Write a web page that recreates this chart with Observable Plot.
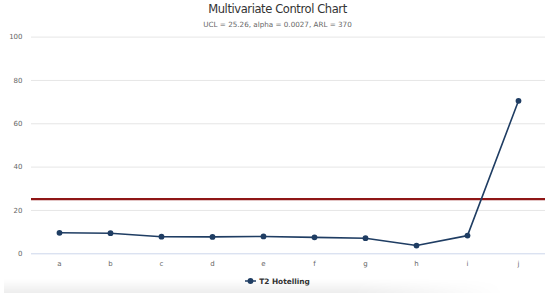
<!DOCTYPE html>
<html>
<head>
<meta charset="utf-8">
<script src="https://cdn.jsdelivr.net/npm/d3@7"></script>
<script src="https://cdn.jsdelivr.net/npm/@observablehq/plot@0.6"></script>
<style>
  html, body { margin: 0; padding: 0; background: #fff; }
  #wrap { position: relative; width: 550px; height: 299px; overflow: hidden; font-family: "DejaVu Sans", sans-serif; }
  #title { position: absolute; left: 0; width: 555px; top: 1px; text-align: center; font-size: 11.5px; letter-spacing: -0.4px; color: #333; line-height: 17px; }
  #subtitle { position: absolute; left: 0; width: 555px; top: 19px; text-align: center; font-size: 7.2px; color: #666; line-height: 12px; }
  #chart { position: absolute; left: 0; top: 26px; }
  #legend { position: absolute; left: 0; width: 555px; top: 275px; text-align: center; font-size: 7.4px; font-weight: bold; color: #333; line-height: 14px; }
  #legend svg { vertical-align: middle; margin-right: 3px; position: relative; top: -1px; }
  #shade { position: absolute; left: 4px; width: 500px; top: 279px; height: 14px;
    background: linear-gradient(to bottom, rgba(0,0,0,0), rgba(0,0,0,0.07));
    -webkit-mask-image: linear-gradient(to right, #000 0%, #000 70%, transparent 100%);
    mask-image: linear-gradient(to right, #000 0%, #000 70%, transparent 100%); }
</style>
</head>
<body>
<div id="wrap">
  <div id="shade"></div>
  <div id="title">Multivariate Control Chart</div>
  <div id="subtitle">UCL = 25.26, alpha = 0.0027, ARL = 370</div>
  <div id="chart"></div>
  <div id="legend"><svg width="11" height="8"><line x1="0" x2="11" y1="4" y2="4" stroke="#1f3d63" stroke-width="1.5"/><circle cx="5.5" cy="4" r="2.9" fill="#1f3d63"/></svg>T2 Hotelling</div>
</div>
<script>
const categories = ["a", "b", "c", "d", "e", "f", "g", "h", "i", "j"];
const t2Values = [9.7, 9.5, 7.9, 7.8, 8.0, 7.6, 7.2, 3.8, 8.4, 70.6];
const ucl = 25.26;
const yTicks = [0, 20, 40, 60, 80, 100];
const seriesName = "T2 Hotelling";

const data = categories.map((c, i) => ({cat: c, value: t2Values[i], series: seriesName}));

const plot = Plot.plot({
  width: 550,
  height: 250,
  marginLeft: 31,
  marginRight: 5,
  marginTop: 10.6,
  marginBottom: 22.7,
  style: {fontFamily: "DejaVu Sans, sans-serif", fontSize: "7px", color: "#666", background: "transparent"},
  x: {type: "point", domain: categories, padding: 0.5, label: null},
  y: {domain: [0, 100], ticks: yTicks, label: null},
  marks: [
    Plot.gridY(yTicks.filter(d => d > 0), {stroke: "#e6e6e6", strokeOpacity: 1, strokeWidth: 1}),
    Plot.ruleY([0], {stroke: "#ccd6eb", strokeWidth: 1}),
    Plot.axisY({ticks: yTicks, tickSize: 0, tickPadding: 9, fill: "#666", label: null}),
    Plot.axisX({tickSize: 0, tickPadding: 7, fill: "#666", label: null}),
    Plot.ruleY([ucl], {stroke: "#8f1616", strokeWidth: 2.2}),
    Plot.line(data, {x: "cat", y: "value", stroke: "#1f3d63", strokeWidth: 1.6}),
    Plot.dot(data, {x: "cat", y: "value", r: 2.9, fill: "#1f3d63"})
  ]
});
document.getElementById("chart").appendChild(plot);
</script>
</body>
</html>
